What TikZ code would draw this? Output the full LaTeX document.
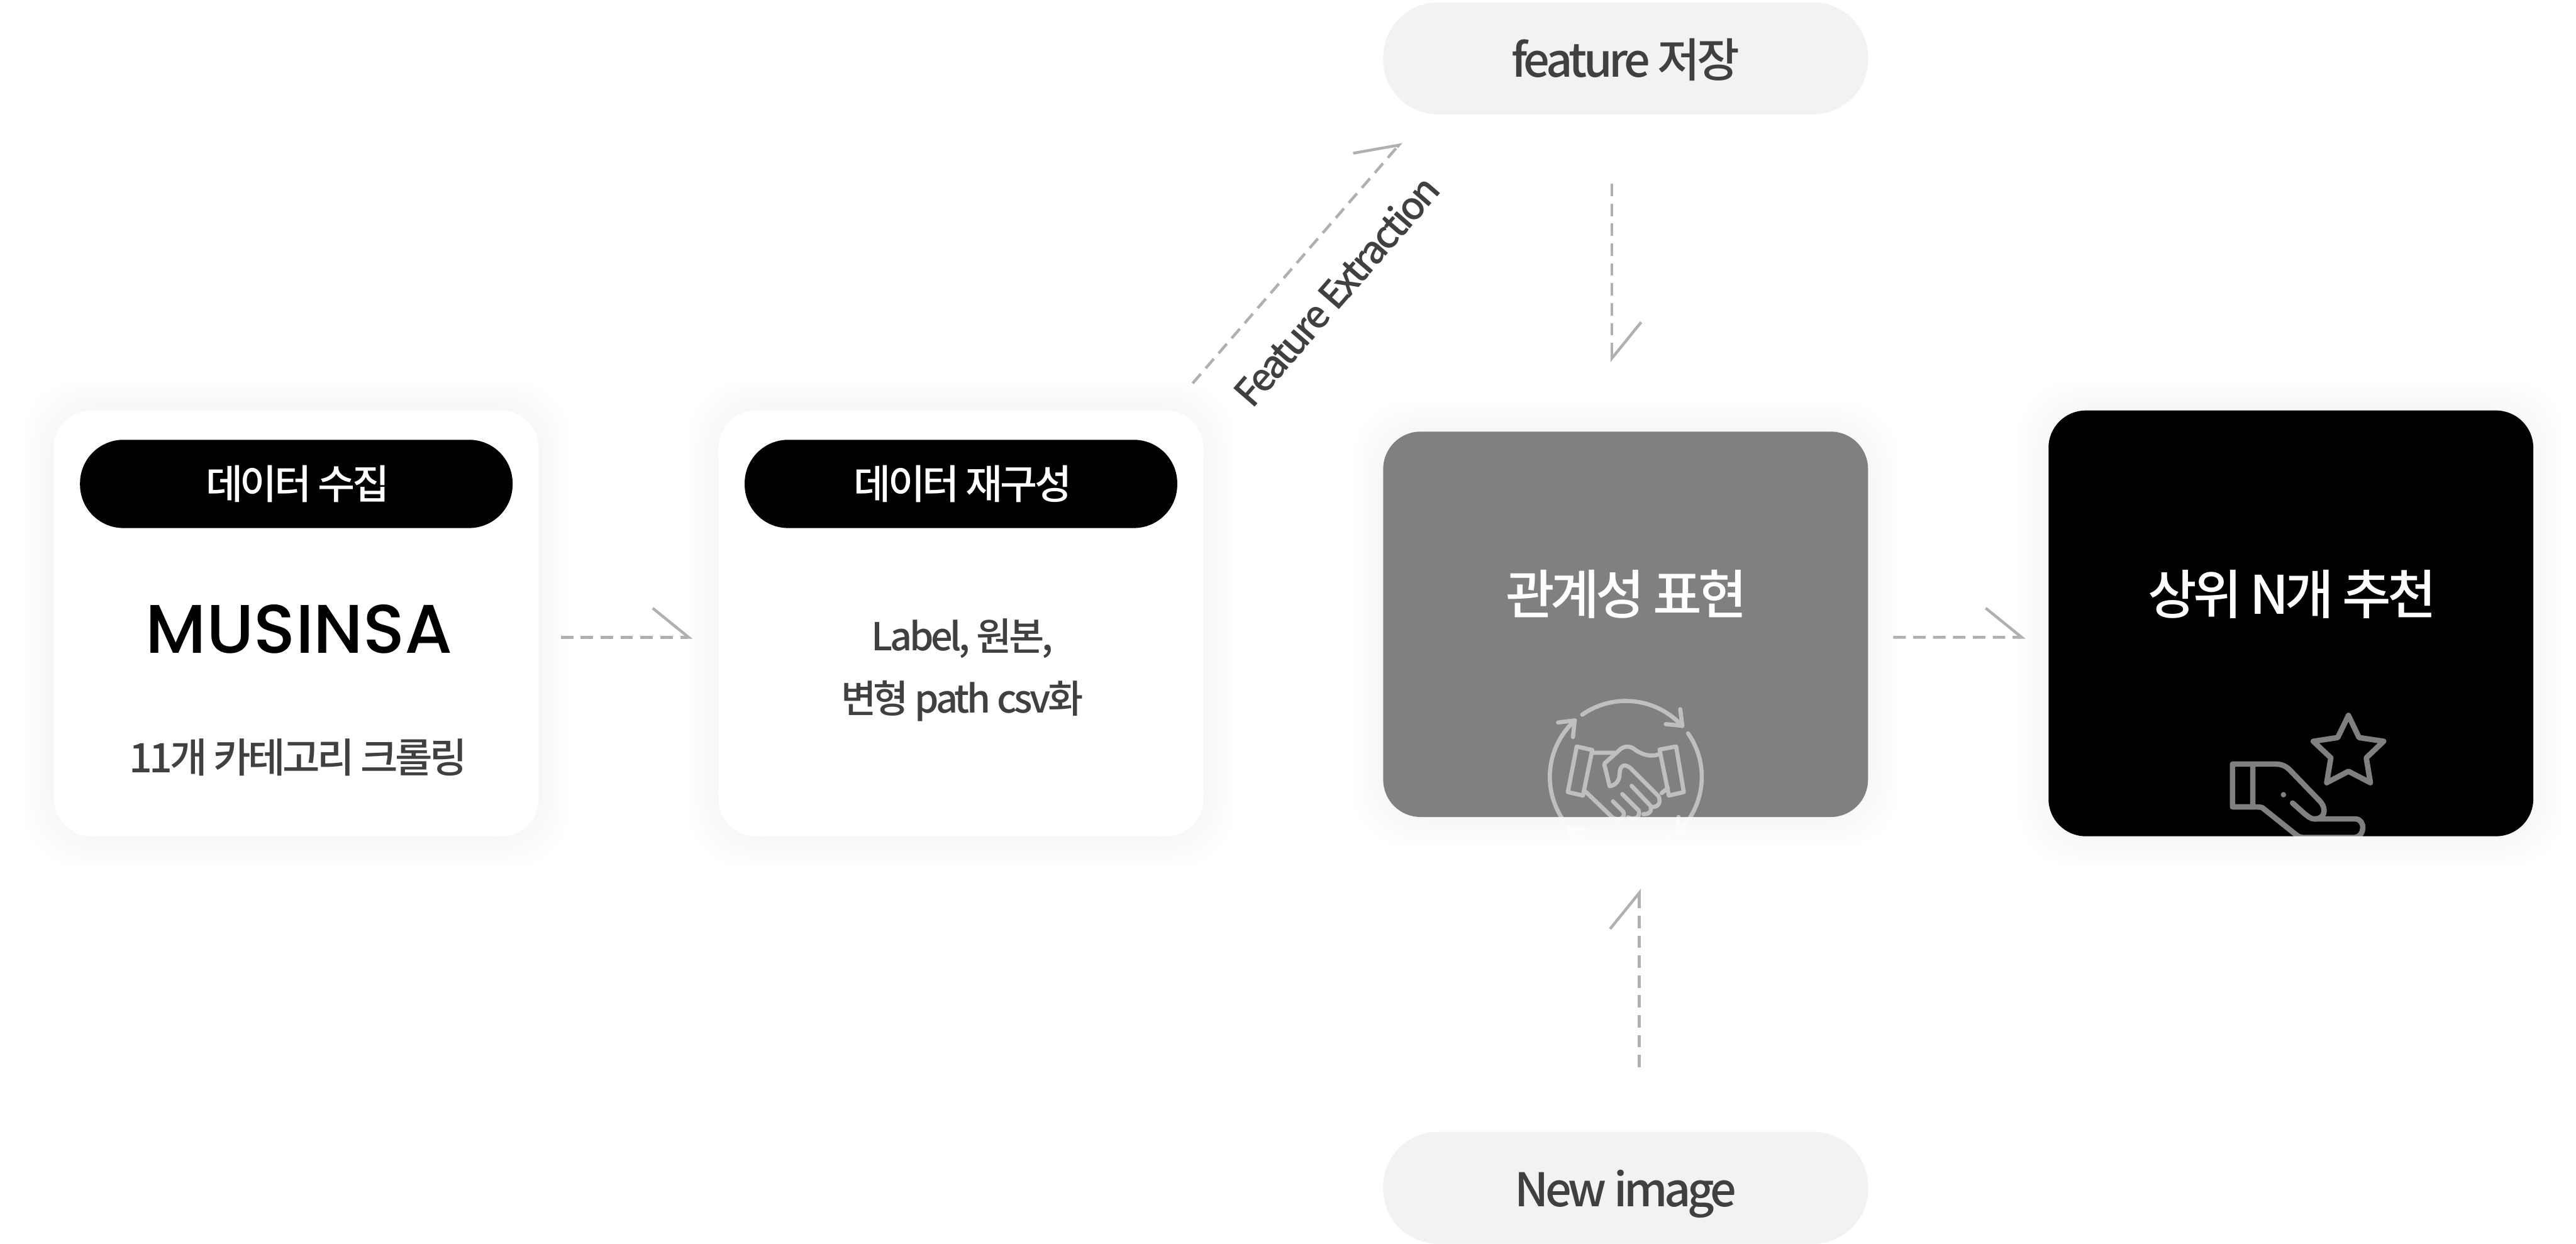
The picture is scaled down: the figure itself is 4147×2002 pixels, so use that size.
\documentclass[tikz,border=0pt]{standalone}
\usepackage{fontspec}
\setmainfont{Noto Sans CJK KR Medium}[LetterSpace=-7]
\newfontfamily\logofont{Poppins Medium}
\usetikzlibrary{arrows.meta,backgrounds}

\definecolor{inkgray}{HTML}{404040}
\definecolor{flowgray}{HTML}{B0B0B0}
\definecolor{pillgray}{HTML}{F2F2F2}
\definecolor{midgray}{HTML}{808080}

\begin{document}
\begin{tikzpicture}[x=0.01cm,y=-0.01cm]
   \tikzstyle{card}=[rectangle, rounded corners=0.6cm, fill=white, minimum width=7.8cm, minimum height=6.85cm, inner sep=0pt]
   \tikzstyle{solidcard}=[card, minimum height=6.2cm, fill=midgray]
   \tikzstyle{badge}=[rectangle, rounded corners=0.7cm, fill=black, text=white, minimum width=6.96cm, minimum height=1.42cm, inner sep=0pt, font=\fontsize{18.5}{22}\selectfont]
   \tikzstyle{pill}=[rectangle, rounded corners=0.88cm, fill=pillgray, text=inkgray, minimum width=7.8cm, minimum height=1.8cm, inner sep=0pt, text height=0.6cm, text depth=0cm, font=\fontsize{21.2}{25}\selectfont]
   \tikzstyle{body}=[text=inkgray, inner sep=0pt, align=center, font=\fontsize{18.6}{28.5}\selectfont]
   \tikzstyle{headline}=[text=white, inner sep=0pt, font=\fontsize{24.3}{30}\selectfont]
   \tikzstyle{flow}=[draw=flowgray, line width=0.045cm, dash pattern=on 0.2cm off 0.12cm, -{Straight Barb[left,length=0.58cm,width=0.94cm,line width=0.045cm]}]
   \tikzstyle{icon}=[draw=white, line cap=round, line join=round]

\useasboundingbox (0,0) rectangle (4147,2002);

\node[card] (collect) at (477,1003.5) {};
\node[card] (rebuild) at (1547,1003.5) {};
\node[solidcard] (relation) at (2617,1005) {};
\node[card, fill=black] (recommend) at (3688,1003.5) {};
\node[pill] (store) at (2617,94) {feature 저장};
\node[pill] (newimage) at (2617,1912) {New image};

\node[badge] (collecttitle) at (477,779) {\hspace{0.04cm}데이터 수집};
\node[badge] (rebuildtitle) at (1547,779) {\hspace{0.06cm}데이터 재구성};
\node[inner sep=0pt, font=\logofont\fontsize{31.5}{40}\selectfont] (logo) at (482,1013) {MUSINSA};
\node[body] (crawl) at (480,1219) {11개 카테고리 크롤링};
\node[body, font=\fontsize{17.6}{28.5}\selectfont] (paths) at (1549,1079) {Label, 원본,\\변형 path csv화};
\node[headline] (relationtitle) at (2618,957) {관계성 표현};
\node[headline] (recommendtitle) at (3690,957) {상위 N개 추천};
\node[text=inkgray, inner sep=0pt, rotate=49, font=\fontsize{17.5}{22}\selectfont] (extraction) at (2151,468) {Feature Extraction};

\begin{scope}[on background layer]
   \fill[white] (0,0) rectangle (4147,2002);
   \foreach \b in {collect,rebuild,relation,recommend}
      \foreach \g in {6,12,...,48}
         \fill[black, opacity=0.003, rounded corners=0.9cm] ([shift={(-\g,-\g)}]\b.north west) rectangle ([shift={(\g,\g)}]\b.south east);
\end{scope}

\draw[flow, shorten <=0.35cm, shorten >=0.41cm] ([yshift=-0.225cm]collect.east) -- ([yshift=-0.225cm]rebuild.west);
\draw[flow, shorten <=0.4cm, shorten >=0.36cm] ([yshift=-0.21cm]relation.east) -- ([yshift=-0.225cm]recommend.west);
\draw[flow] ([shift={(-18,-43)}]rebuild.north east) -- ([shift={(30,44)}]store.south west);
\draw[flow] ([xshift=-0.22cm,yshift=-1.11cm]store.south) -- ([xshift=-0.22cm,yshift=1.11cm]relation.north);
\draw[flow] ([xshift=0.22cm,yshift=1.03cm]newimage.north) -- ([xshift=0.22cm,yshift=-1.15cm]relation.south);

\begin{scope}[shift={(2617.3,1250.7)}, scale=1/3, transparency group, opacity=0.5]
   \tikzstyle{every path}=[icon, line width=0.067cm]
   \foreach \a in {0,-90,-180,-270}
      \draw[rotate=\a] plot[smooth, samples=16, domain=125:42] ({367*cos(\x)},{-367*sin(\x)}) (263,-327) -- (273,-247) -- (193,-255);
   \draw (-237,-147) -- (-162,-130) -- (-207,90) -- (-280,73) -- cycle;
   \draw (243,-147) -- (163,-132) -- (208,90) -- (280,73) -- cycle;
   \draw (-162,-117) -- (-52,-117);
   \draw (163,-110) .. controls (120,-95) and (80,-105) .. (40,-135) .. controls (20,-150) and (-5,-150) .. (-25,-135) -- (-95,-72) .. controls (-105,-65) and (-105,-60) .. (-100,-45) -- (-78,45) .. controls (-50,40) and (-30,20) .. (-30,-15) .. controls (-28,-55) and (-10,-65) .. (20,-45) -- (158,93) .. controls (170,120) and (160,145) .. (130,145);
   \draw (28,43) -- (118,138) .. controls (128,165) and (115,180) .. (85,180);
   \draw (-17,83) -- (63,163) .. controls (70,195) and (45,210) .. (10,195);
   \draw (-62,118) -- (-12,168) .. controls (0,195) and (-30,215) .. (-60,198);
   \draw (-192,73) -- (-62,198);
   \draw (173,78) -- (203,53);
\end{scope}

\begin{scope}[shift={(3500,1100)}, scale=1/3, transparency group, opacity=0.5]
   \tikzstyle{every path}=[icon, line width=0.087cm]
   \draw (842,155) -- (893,262) -- (1012,280) -- (928,360) -- (948,480) -- (842,425) -- (737,480) -- (757,360) -- (672,280) -- (790,262) -- cycle;
   \draw (282,390) rectangle (380,597);
   \draw (380,390) -- (490,390) .. controls (520,390) and (540,400) .. (560,420) -- (705,570) .. controls (740,610) and (725,655) .. (680,655) .. controls (655,655) and (645,640) .. (630,630) -- (572,578);
   \draw (680,655) -- (875,655) .. controls (925,655) and (925,745) .. (865,745) -- (625,745) .. controls (605,745) and (595,735) .. (585,728) -- (425,600) .. controls (415,597) and (400,597) .. (380,597);
   \fill[white, draw=none] (528,538) circle (13);
\end{scope}

\end{tikzpicture}
\end{document}
